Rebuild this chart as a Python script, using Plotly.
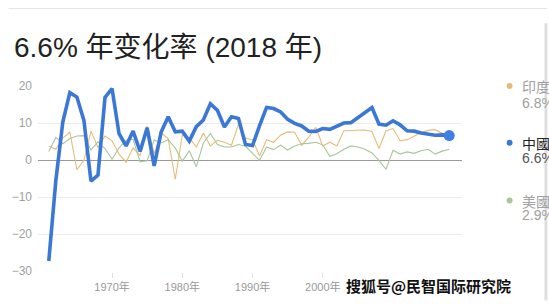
import plotly.graph_objects as go

years = list(range(1961, 2019))

china = [-27.3, -5.6, 10.3, 18.2, 17.0, 10.7, -5.7, -4.1, 16.9, 19.3,
         7.1, 3.8, 7.8, 2.3, 8.7, -1.6, 7.6, 11.7, 7.6, 7.8,
         5.1, 9.0, 10.8, 15.2, 13.4, 8.9, 11.7, 11.2, 4.2, 3.9,
         9.3, 14.2, 13.9, 13.0, 11.0, 9.9, 9.2, 7.8, 7.7, 8.5,
         8.3, 9.1, 10.0, 10.1, 11.4, 12.7, 14.2, 9.7, 9.4, 10.6,
         9.5, 7.9, 7.8, 7.3, 6.9, 6.7, 6.8, 6.6]

india = [3.7, 2.9, 6.0, 7.5, -2.6, -0.1, 7.8, 3.4, 6.5, 5.2,
         1.6, -0.6, 3.3, 1.2, 9.2, 1.7, 7.3, 5.7, -5.2, 6.7,
         6.0, 3.5, 7.3, 3.8, 5.3, 4.8, 4.0, 9.6, 5.9, 5.5,
         1.1, 5.5, 4.8, 6.7, 7.6, 7.5, 4.0, 6.2, 8.8, 3.8,
         4.8, 3.8, 7.9, 7.9, 7.9, 8.1, 7.7, 3.1, 7.9, 8.5,
         5.2, 5.5, 6.4, 7.4, 8.0, 8.2, 7.2, 6.8]

usa = [2.3, 6.1, 4.4, 5.8, 6.5, 6.6, 2.7, 4.9, 3.1, 0.2,
       3.3, 5.3, 5.6, -0.5, -0.2, 5.4, 4.6, 5.5, 3.2, -0.3,
       2.5, -1.8, 4.6, 7.2, 4.2, 3.5, 3.5, 4.2, 3.7, 1.9,
       -0.1, 3.5, 2.8, 4.0, 2.7, 3.8, 4.4, 4.5, 4.8, 4.1,
       1.0, 1.7, 2.9, 3.8, 3.5, 2.9, 1.9, -0.1, -2.5, 2.6,
       1.6, 2.2, 1.8, 2.5, 2.9, 1.6, 2.4, 2.9]

series_names = ["印度", "中國", "美國"]
tick_years = [1970, 1980, 1990, 2000, 2010]
tick_labels = ["1970年", "1980年", "1990年", "2000年", "2010年"]
y_ticks = [20, 10, 0, -10, -20, -30]

W, H = 549, 305
L, R, T, B = 30, 462, 85, 276

def px(x):
    return (x - L) / (R - L)

def py(y):
    return (B - y) / (B - T)

C_CHINA = "#3b78d6"
C_INDIA = "#e6bd78"
C_USA = "#a9c59c"

fig = go.Figure()
fig.add_trace(go.Scatter(x=years, y=india, mode="lines",
                         line=dict(color=C_INDIA, width=1.1), hoverinfo="skip"))
fig.add_trace(go.Scatter(x=years, y=usa, mode="lines",
                         line=dict(color=C_USA, width=1.1), hoverinfo="skip"))
fig.add_trace(go.Scatter(x=years, y=china, mode="lines",
                         line=dict(color=C_CHINA, width=3.6), hoverinfo="skip"))
fig.add_trace(go.Scatter(x=[years[-1]], y=[china[-1]], mode="markers",
                         marker=dict(color="#3f7fe6", size=11), hoverinfo="skip"))

font_main = "Liberation Sans, Arial, 'Noto Sans CJK SC', sans-serif"

annotations = []
annotations.append(dict(
    text=f"{china[-1]}% 年变化率 ({years[-1]} 年)",
    x=px(3), y=py(47), xref="paper", yref="paper",
    xanchor="left", yanchor="middle", showarrow=False,
    font=dict(size=28, color="#222222", family=font_main)))

legend_rows = [
    (series_names[0], india[-1], C_INDIA, "#a0a0a0", "#a0a0a0", 87, 103),
    (series_names[1], china[-1], C_CHINA, "#222222", "#555555", 145, 160),
    (series_names[2], usa[-1], C_USA, "#a0a0a0", "#a0a0a0", 204, 218),
]
shapes = []
for name, val, dot, c1, c2, y1, y2 in legend_rows:
    annotations.append(dict(text=name, x=px(521), y=py(y1), xref="paper", yref="paper",
                            xanchor="left", yanchor="middle", showarrow=False,
                            font=dict(size=14, color=c1, family=font_main)))
    annotations.append(dict(text=f"{val}%", x=px(521), y=py(y2), xref="paper", yref="paper",
                            xanchor="left", yanchor="middle", showarrow=False,
                            font=dict(size=14, color=c2, family=font_main)))
    cx, cy = 510.5, y1 - 1
    shapes.append(dict(type="circle", xref="paper", yref="paper",
                       x0=px(cx - 3), x1=px(cx + 3), y0=py(cy + 3), y1=py(cy - 3),
                       fillcolor=dot, line=dict(width=0)))

annotations.append(dict(
    text="<b>搜狐号@民智国际研究院</b>", x=px(428), y=py(290), xref="paper", yref="paper",
    xanchor="center", yanchor="middle", showarrow=False, bgcolor="white",
    font=dict(size=15, color="#111111", family="'Noto Sans CJK SC', sans-serif")))

shapes.append(dict(type="line", xref="paper", yref="paper",
                   x0=px(0), x1=px(W), y0=py(7), y1=py(7),
                   line=dict(color="#e3e3e3", width=1)))
shapes.append(dict(type="rect", xref="paper", yref="paper",
                   x0=px(546), x1=px(549), y0=py(22), y1=py(305),
                   fillcolor="#dedede", line=dict(width=0)))

fig.update_layout(
    width=W, height=H,
    margin=dict(l=L, r=W - R, t=T, b=H - B, pad=0),
    paper_bgcolor="white", plot_bgcolor="white",
    showlegend=False,
    annotations=annotations, shapes=shapes,
    xaxis=dict(range=[1961 - 11 / 7.16, 2018 + 13 / 7.16],
               tickvals=tick_years, ticktext=tick_labels,
               showgrid=False, zeroline=False, showline=False,
               ticks="outside", ticklen=5, tickcolor="#e0e0e0",
               tickfont=dict(size=11, color="#999999", family=font_main)),
    yaxis=dict(range=[-30.27, 20.27], tickvals=y_ticks,
               showgrid=True, gridcolor="#ececec", gridwidth=1,
               zeroline=True, zerolinecolor="#9a9a9a", zerolinewidth=1,
               showline=False, ticks="",
               ticklabelstandoff=5,
               tickfont=dict(size=12, color="#a0a0a0", family=font_main)),
)

fig.write_html("out.html")
